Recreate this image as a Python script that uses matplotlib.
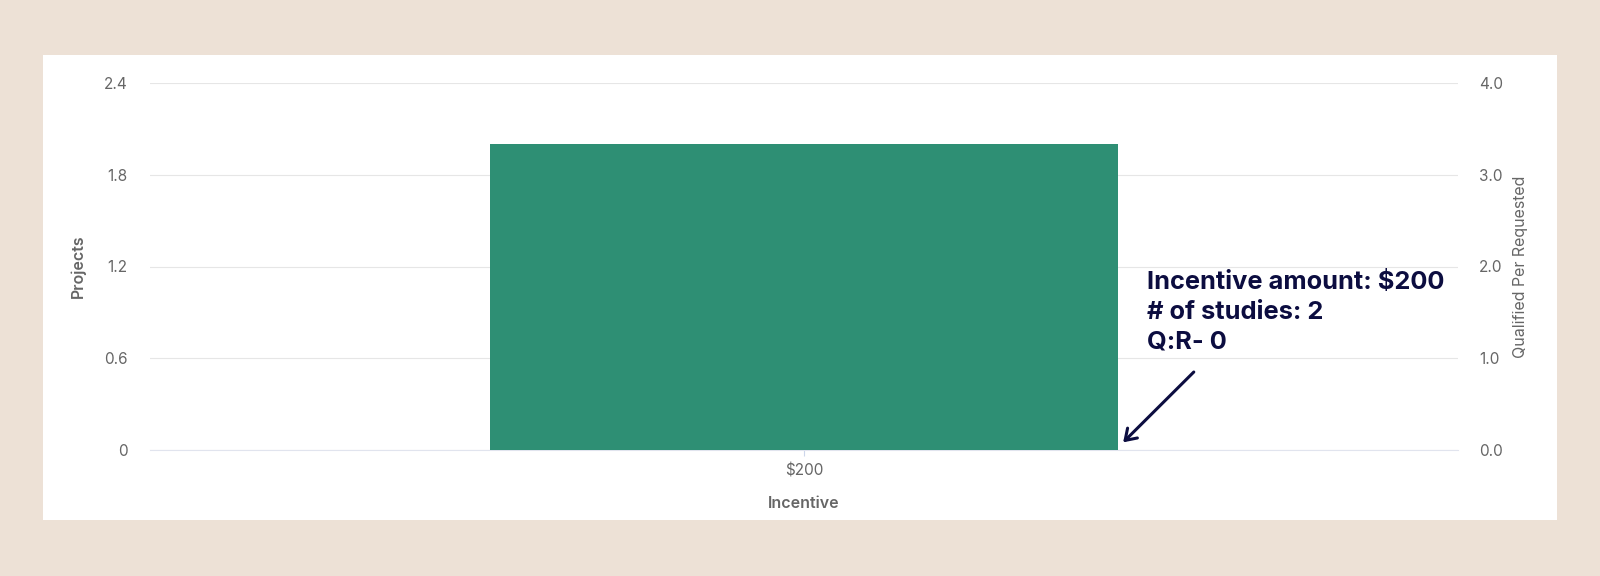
import matplotlib.pyplot as plt
from matplotlib.patches import Rectangle
from matplotlib.ticker import FormatStrFormatter

plt.rcParams["font.family"] = ["Inter", "DejaVu Sans"]

# data
categories = ["$200"]
projects = [2]
left_ticks = [0, 0.6, 1.2, 1.8, 2.4]
right_ticks = [0, 1, 2, 3, 4]
note_lines = ["Incentive amount: $200", "# of studies: 2", "Q:R- 0"]

bg = "#ede1d6"
bar_color = "#2e8f74"
grid_color = "#e6e6e6"
label_color = "#666666"
note_color = "#0c0d40"

fig = plt.figure(figsize=(16, 5.76), dpi=100, facecolor=bg)
# white card behind the chart
card = Rectangle((43 / 1600, 56 / 576), 1514 / 1600, 465 / 576,
                 transform=fig.transFigure, facecolor="white",
                 edgecolor="none", zorder=-10)
fig.patches.append(card)

ax = fig.add_axes([150 / 1600, 126 / 576, 1308 / 1600, 367 / 576])
ax.set_facecolor("none")
bar_w = 0.48
xs = list(range(len(categories)))
ax.bar(xs, projects, width=bar_w, color=bar_color, zorder=3)
ax.set_xlim(-0.5, len(categories) - 0.5)
ax.set_ylim(0, 2.4)
ax.set_yticks(left_ticks)
ax.set_yticklabels(["0", "0.6", "1.2", "1.8", "2.4"])
ax.set_xticks(xs)
ax.set_xticklabels(categories)
ax.grid(axis="y", color=grid_color, lw=0.8, zorder=0)
for s in ["top", "left", "right"]:
    ax.spines[s].set_visible(False)
ax.spines["bottom"].set_color("#e1e4ee")
ax.spines["bottom"].set_linewidth(0.8)
ax.tick_params(axis="y", length=0, pad=16, labelsize=11, labelcolor=label_color)
ax.tick_params(axis="x", length=4.5, width=0.8, color="#ccd6eb", pad=5,
               labelsize=11, labelcolor=label_color)
ax.set_xlabel("Incentive", fontsize=11.5, fontweight="semibold", color=label_color)
ax.xaxis.set_label_coords(0.5, -0.125)
ax.set_ylabel("Projects", fontsize=11.5, fontweight="semibold", color=label_color,
              va="center")
ax.yaxis.set_label_coords(-0.055, 0.5)

ax2 = ax.twinx()
ax2.set_ylim(0, 4)
ax2.set_yticks(right_ticks)
ax2.yaxis.set_major_formatter(FormatStrFormatter("%.1f"))
for s in ax2.spines.values():
    s.set_visible(False)
ax2.tick_params(axis="y", length=0, pad=15, labelsize=11, labelcolor=label_color)
ax2.set_ylabel("Qualified Per Requested", fontsize=11.5, color=label_color,
               va="center", rotation=90)
ax2.yaxis.set_label_coords(1.048, 0.5)

# annotation (baseline of the last line)
corner_x = xs[0] + bar_w / 2
ax.text(0.262, 0.667, "\n".join(note_lines), fontsize=18.3, fontweight="bold",
        color=note_color, ha="left", va="baseline", linespacing=1.36, zorder=5)
ax.annotate("", xy=(corner_x + 0.004, 0.05), xytext=(corner_x + 0.058, 0.51),
            arrowprops=dict(arrowstyle="->,head_length=0.75,head_width=0.5",
                            color=note_color, lw=2.2, shrinkA=0, shrinkB=0),
            zorder=5)

fig.savefig("out.png", dpi=100, facecolor=bg)
